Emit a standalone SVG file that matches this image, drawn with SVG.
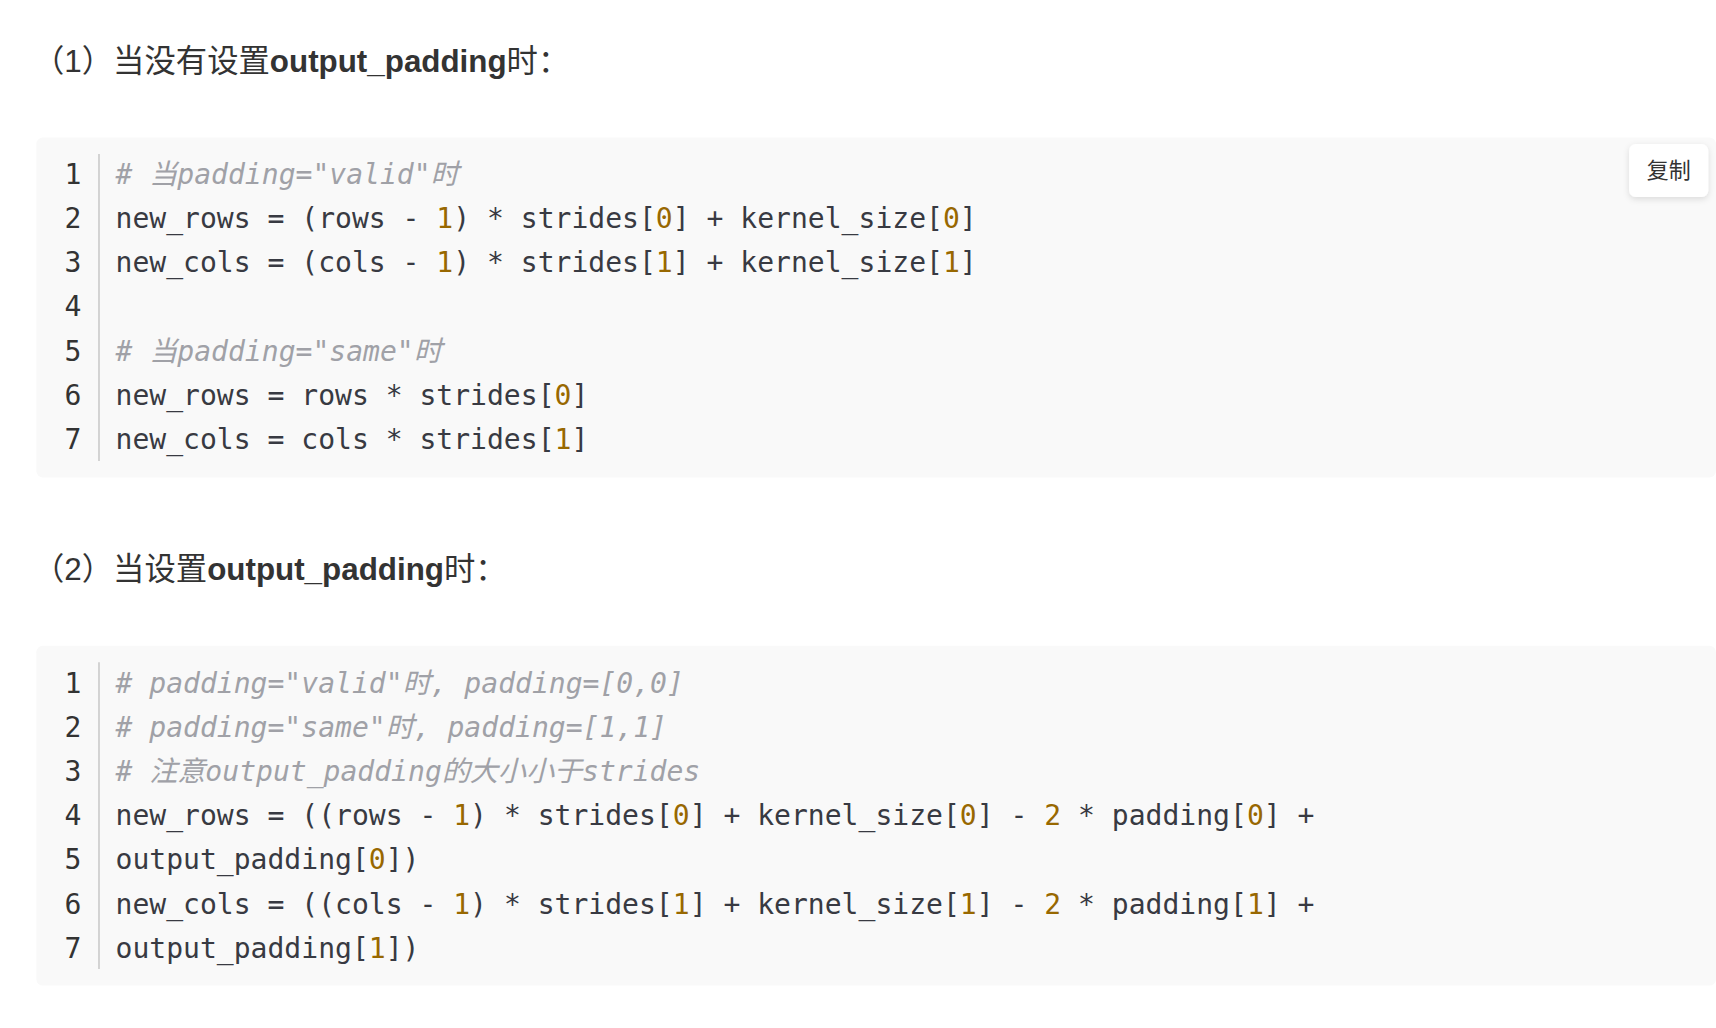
<svg xmlns="http://www.w3.org/2000/svg" width="1716" height="1028" viewBox="0 0 1716 1028">
<style>
.h{font-family:"Liberation Sans","Noto Sans CJK SC",sans-serif;font-size:28.5px;fill:#333}
.b{font-weight:bold}
.c{font-family:"DejaVu Sans Mono","Liberation Mono","Noto Sans CJK SC",monospace;font-size:25.5px;fill:#383a42}
.cm{fill:#a0a1a7;font-style:italic}
.n{fill:#986801}
.ln{font-family:"DejaVu Sans Mono","Liberation Mono",monospace;font-size:25.5px;fill:#333;text-anchor:end}
.box{fill:#f9f9f9}
.g{stroke:#ccc;stroke-width:1.5}
</style>
<defs><filter id="sh" x="-20%" y="-20%" width="140%" height="160%"><feDropShadow dx="0" dy="2" stdDeviation="3" flood-color="#000" flood-opacity="0.12"/></filter></defs>
<rect width="1716" height="1028" fill="#fff"/>
<g transform="scale(1.1)">
<g id="heading1"><text class="h" x="30" y="65">（1）当没有设置<tspan class="b">output_padding</tspan>时：</text></g>
<g id="code1">
<rect class="box" x="33" y="125" width="1527" height="309" rx="6"/>
<line class="g" x1="90" y1="140" x2="90" y2="419"/>
<text class="ln" x="74" y="167">1</text><text class="ln" x="74" y="207">2</text><text class="ln" x="74" y="247">3</text><text class="ln" x="74" y="287">4</text><text class="ln" x="74" y="328">5</text><text class="ln" x="74" y="368">6</text><text class="ln" x="74" y="408">7</text>
<text class="c cm" x="105" y="167"># 当padding="valid"时</text>
<text class="c" x="105" y="207">new_rows = (rows - <tspan class="n">1</tspan>) * strides[<tspan class="n">0</tspan>] + kernel_size[<tspan class="n">0</tspan>]</text>
<text class="c" x="105" y="247">new_cols = (cols - <tspan class="n">1</tspan>) * strides[<tspan class="n">1</tspan>] + kernel_size[<tspan class="n">1</tspan>]</text>
<text class="c cm" x="105" y="328"># 当padding="same"时</text>
<text class="c" x="105" y="368">new_rows = rows * strides[<tspan class="n">0</tspan>]</text>
<text class="c" x="105" y="408">new_cols = cols * strides[<tspan class="n">1</tspan>]</text>
</g>
<g id="copy"><rect x="1481" y="131" width="72" height="48" rx="6" fill="#fff" filter="url(#sh)"/><text x="1517" y="162" text-anchor="middle" font-family="Noto Sans CJK SC,sans-serif" font-size="20" fill="#333">复制</text></g>
<g id="heading2"><text class="h" x="30" y="527">（2）当设置<tspan class="b">output_padding</tspan>时：</text></g>
<g id="code2">
<rect class="box" x="33" y="587" width="1527" height="309" rx="6"/>
<line class="g" x1="90" y1="602" x2="90" y2="881"/>
<text class="ln" x="74" y="630">1</text><text class="ln" x="74" y="670">2</text><text class="ln" x="74" y="710">3</text><text class="ln" x="74" y="750">4</text><text class="ln" x="74" y="790">5</text><text class="ln" x="74" y="831">6</text><text class="ln" x="74" y="871">7</text>
<text class="c cm" x="105" y="630"># padding="valid"时, padding=[0,0]</text>
<text class="c cm" x="105" y="670"># padding="same"时, padding=[1,1]</text>
<text class="c cm" x="105" y="710"># 注意output_padding的大小小于strides</text>
<text class="c" x="105" y="750">new_rows = ((rows - <tspan class="n">1</tspan>) * strides[<tspan class="n">0</tspan>] + kernel_size[<tspan class="n">0</tspan>] - <tspan class="n">2</tspan> * padding[<tspan class="n">0</tspan>] +</text>
<text class="c" x="105" y="790">output_padding[<tspan class="n">0</tspan>])</text>
<text class="c" x="105" y="831">new_cols = ((cols - <tspan class="n">1</tspan>) * strides[<tspan class="n">1</tspan>] + kernel_size[<tspan class="n">1</tspan>] - <tspan class="n">2</tspan> * padding[<tspan class="n">1</tspan>] +</text>
<text class="c" x="105" y="871">output_padding[<tspan class="n">1</tspan>])</text>
</g>
</g>
</svg>
